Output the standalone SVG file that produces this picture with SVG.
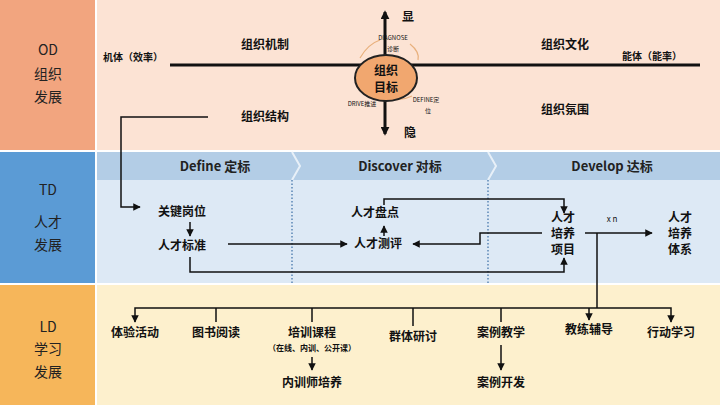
<svg xmlns="http://www.w3.org/2000/svg" width="720" height="405" viewBox="0 0 720 405">
<style>
text{font-family:"Noto Sans CJK SC","Liberation Sans",sans-serif;fill:#111}
.side{font-size:14px;text-anchor:middle;fill:#222}
.n{font-size:12px;font-weight:bold;text-anchor:middle}
.h{font-size:13px;font-weight:bold;text-anchor:middle;fill:#222}
.ln{fill:none;stroke:#111;stroke-width:1.5}
.ax{fill:none;stroke:#111;stroke-width:3}
.dot{stroke:#3a6ea5;stroke-width:1.2;stroke-dasharray:1.5 2}
</style>
<defs>
<marker id="a" viewBox="0 0 10 10" refX="9" refY="5" markerWidth="5" markerHeight="5" orient="auto-start-reverse"><path d="M0 0L10 5L0 10z" fill="#111"/></marker>
<marker id="b" viewBox="0 0 10 10" refX="8" refY="5" markerWidth="3" markerHeight="3" orient="auto-start-reverse"><path d="M0 0L10 5L0 10z" fill="#111"/></marker>
</defs>
<rect x="0" y="0" width="95" height="150" fill="#f2a57f"/>
<rect x="97" y="0" width="623" height="150" fill="#fce3d4"/>
<rect x="0" y="152" width="95" height="131" fill="#5b9bd5"/>
<rect x="97" y="152" width="623" height="131" fill="#dde9f5"/>
<path d="M97 152H292L300 166L292 180H97Z" fill="#b3cde6"/>
<path d="M292 152H488L496 166L488 180H292L300 166Z" fill="#b3cde6"/>
<path d="M488 152H720V180H488L496 166Z" fill="#b3cde6"/>
<path d="M292 152L300 166L292 180M488 152L496 166L488 180" fill="none" stroke="#e8f0f8" stroke-width="2"/>
<rect x="0" y="285" width="95" height="120" fill="#f6b65a"/>
<rect x="97" y="285" width="623" height="120" fill="#fdf0cd"/>
<line class="dot" x1="292" y1="180" x2="292" y2="283"/>
<line class="dot" x1="488" y1="180" x2="488" y2="283"/>
<g id="side">
<text class="side" x="48" y="55">OD</text><text class="side" x="48" y="79">组织</text><text class="side" x="48" y="102">发展</text>
<text class="side" x="48" y="195">TD</text><text class="side" x="48" y="227">人才</text><text class="side" x="48" y="250">发展</text>
<text class="side" x="48" y="332">LD</text><text class="side" x="48" y="354">学习</text><text class="side" x="48" y="377">发展</text>
</g>
<g id="headers">
<text class="h" x="215" y="171">Define 定标</text>
<text class="h" x="400" y="171">Discover 对标</text>
<text class="h" x="612" y="171">Develop 达标</text>
</g>
<g id="od">
<line class="ax" x1="170" y1="65" x2="700" y2="65"/>
<line class="ax" x1="385" y1="12" x2="385" y2="134" marker-start="url(#b)" marker-end="url(#b)"/>
<path d="M360 58Q368 44 380 40M410 44Q420 52 418 60M412 96Q400 102 388 98" fill="none" stroke="#e8b07c" stroke-width="1.2"/>
<ellipse cx="386" cy="78" rx="31" ry="23" fill="#f1a76f" stroke="#222" stroke-width="2"/>
<text class="n" x="386" y="75" font-size="13">组织</text><text class="n" x="386" y="92" font-size="13">目标</text>
<text class="n" x="408" y="21" font-size="13">显</text><text class="n" x="410" y="137" font-size="13">隐</text>
<text x="393" y="40" font-size="6" text-anchor="middle">DIAGNOSE</text><text x="393" y="51" font-size="6" text-anchor="middle">诊断</text>
<text x="362" y="106" font-size="6" text-anchor="middle">DRIVE推进</text>
<text x="426" y="102" font-size="6" text-anchor="middle">DEFINE定</text><text x="428" y="113" font-size="6" text-anchor="middle">位</text>
<text x="133" y="61" font-size="10" text-anchor="middle" font-weight="bold">机体（效率）</text>
<text x="652" y="60" font-size="10" text-anchor="middle" font-weight="bold">能体（能率）</text>
<text class="n" x="265" y="49" font-size="13">组织机制</text>
<text class="n" x="565" y="49" font-size="13">组织文化</text>
<text class="n" x="265" y="121" font-size="13">组织结构</text>
<text class="n" x="565" y="114" font-size="13">组织氛围</text>
</g>
<g id="td">
<text class="n" x="182" y="216">关键岗位</text>
<text class="n" x="182" y="250">人才标准</text>
<text class="n" x="375" y="217">人才盘点</text>
<text class="n" x="378" y="248">人才测评</text>
<text class="n" x="563" y="222">人才</text><text class="n" x="563" y="238">培养</text><text class="n" x="563" y="254">项目</text>
<text class="n" x="680" y="222">人才</text><text class="n" x="680" y="238">培养</text><text class="n" x="680" y="254">体系</text>
<text x="612" y="222" font-size="8" text-anchor="middle">x n</text>
</g>
<g id="ld">
<text class="n" x="135" y="337">体验活动</text>
<text class="n" x="216" y="337">图书阅读</text>
<text class="n" x="312" y="337">培训课程</text>
<text x="312" y="351" font-size="8" text-anchor="middle" font-weight="bold">（在线、内训、公开课）</text>
<text class="n" x="312" y="387">内训师培养</text>
<text class="n" x="413" y="341">群体研讨</text>
<text class="n" x="501" y="337">案例教学</text>
<text class="n" x="501" y="387">案例开发</text>
<text class="n" x="589" y="334">教练辅导</text>
<text class="n" x="671" y="337">行动学习</text>
</g>
<g id="connectors">
<path class="ln" d="M208 117H121V207H140" marker-end="url(#a)"/>
<path class="ln" d="M190 222V236" marker-end="url(#a)"/>
<path class="ln" d="M228 244H347" marker-end="url(#a)"/>
<path class="ln" d="M384 236V226" marker-end="url(#a)"/>
<path class="ln" d="M384 205V199H564V213" marker-end="url(#a)"/>
<path class="ln" d="M190 257V272H564V258" marker-end="url(#a)"/>
<path class="ln" d="M542 233H480V244H413" marker-end="url(#a)"/>
<path class="ln" d="M585 233H652" marker-end="url(#a)"/>
<path class="ln" d="M597 233V308"/>
<path class="ln" d="M135 322V308H671V322" marker-start="url(#a)" marker-end="url(#a)"/>
<path class="ln" d="M216 308V322M312 308V322M413 308V326M501 308V322M589 308V320" marker-end="url(#a)"/>
<path class="ln" d="M312 357V370" marker-end="url(#a)"/>
<path class="ln" d="M501 345V370" marker-end="url(#a)"/>
</g>
</svg>
